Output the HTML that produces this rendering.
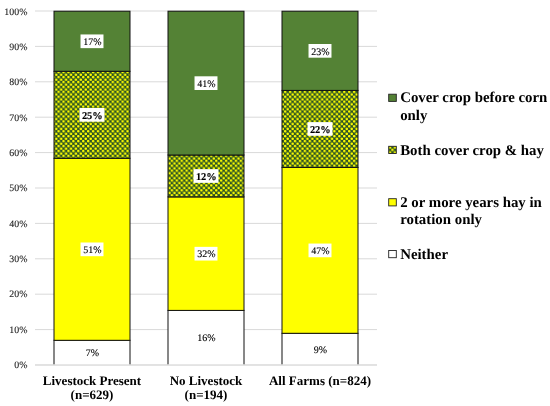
<!DOCTYPE html>
<html><head><meta charset="utf-8"><style>
html,body{margin:0;padding:0;background:#fff;}
body{width:550px;height:406px;overflow:hidden;position:relative;}
svg{position:absolute;left:0;top:0;}
text{font-family:"Liberation Serif","Times New Roman",serif;text-rendering:geometricPrecision;}
</style></head><body>
<svg width="550" height="406" viewBox="0 0 550 406">
<defs>
<pattern id="chk" patternUnits="userSpaceOnUse" x="57.43" y="130.1" width="4.925" height="4.925">
<rect x="0" y="0" width="4.925" height="4.925" fill="#2a5224"/>
<circle cx="1.231" cy="1.231" r="1.3" fill="#ffff00"/>
<circle cx="3.694" cy="3.694" r="1.3" fill="#ffff00"/>
</pattern>
<pattern id="chk2" patternUnits="userSpaceOnUse" x="391.27" y="148.67" width="4.925" height="4.925">
<rect x="0" y="0" width="4.925" height="4.925" fill="#2a5224"/>
<circle cx="1.231" cy="1.231" r="1.3" fill="#ffff00"/>
<circle cx="3.694" cy="3.694" r="1.3" fill="#ffff00"/>
</pattern>

</defs>

<g stroke="#d9d9d9" stroke-width="1">
<line x1="35" x2="377" y1="365.00" y2="365.00"/>
<line x1="35" x2="377" y1="329.60" y2="329.60"/>
<line x1="35" x2="377" y1="294.20" y2="294.20"/>
<line x1="35" x2="377" y1="258.80" y2="258.80"/>
<line x1="35" x2="377" y1="223.40" y2="223.40"/>
<line x1="35" x2="377" y1="188.00" y2="188.00"/>
<line x1="35" x2="377" y1="152.60" y2="152.60"/>
<line x1="35" x2="377" y1="117.20" y2="117.20"/>
<line x1="35" x2="377" y1="81.80" y2="81.80"/>
<line x1="35" x2="377" y1="46.40" y2="46.40"/>
<line x1="35" x2="377" y1="11.00" y2="11.00"/>
</g>
<g font-size="9.9" fill="#262626" stroke="#262626" stroke-width="0.12" text-anchor="end">
<text x="27.4" y="368.00">0%</text>
<text x="27.4" y="332.67">10%</text>
<text x="27.4" y="297.34">20%</text>
<text x="27.4" y="262.01">30%</text>
<text x="27.4" y="226.68">40%</text>
<text x="27.4" y="191.35">50%</text>
<text x="27.4" y="156.02">60%</text>
<text x="27.4" y="120.69">70%</text>
<text x="27.4" y="85.36">80%</text>
<text x="27.4" y="50.03">90%</text>
<text x="27.4" y="14.70">100%</text>
</g>
<clipPath id="plot"><rect x="0" y="0" width="550" height="364.6"/></clipPath><g clip-path="url(#plot)">
<rect x="54.00" y="340.30" width="76.00" height="26.70" fill="#ffffff" stroke="#111" stroke-width="1"/>
<rect x="54.00" y="158.30" width="76.00" height="182.00" fill="#ffff00" stroke="#111" stroke-width="1"/>
<clipPath id="c92"><rect x="54.00" y="71.30" width="76.00" height="87.00"/></clipPath>
<g clip-path="url(#c92)"><rect x="52.00" y="69.30" width="80.00" height="91.00" fill="url(#chk)"/></g>
<rect x="54.00" y="71.30" width="76.00" height="87.00" fill="none" stroke="#111" stroke-width="1"/>
<rect x="54.00" y="11.20" width="76.00" height="60.10" fill="#548235" stroke="#111" stroke-width="1"/>
<rect x="168.00" y="310.40" width="76.00" height="56.60" fill="#ffffff" stroke="#111" stroke-width="1"/>
<rect x="168.00" y="196.90" width="76.00" height="113.50" fill="#ffff00" stroke="#111" stroke-width="1"/>
<clipPath id="c206"><rect x="168.00" y="155.00" width="76.00" height="41.90"/></clipPath>
<g clip-path="url(#c206)"><rect x="166.00" y="153.00" width="80.00" height="45.90" fill="url(#chk)"/></g>
<rect x="168.00" y="155.00" width="76.00" height="41.90" fill="none" stroke="#111" stroke-width="1"/>
<rect x="168.00" y="11.20" width="76.00" height="143.80" fill="#548235" stroke="#111" stroke-width="1"/>
<rect x="282.00" y="333.30" width="76.00" height="33.70" fill="#ffffff" stroke="#111" stroke-width="1"/>
<rect x="282.00" y="167.40" width="76.00" height="165.90" fill="#ffff00" stroke="#111" stroke-width="1"/>
<clipPath id="c320"><rect x="282.00" y="90.40" width="76.00" height="77.00"/></clipPath>
<g clip-path="url(#c320)"><rect x="280.00" y="88.40" width="80.00" height="81.00" fill="url(#chk)"/></g>
<rect x="282.00" y="90.40" width="76.00" height="77.00" fill="none" stroke="#111" stroke-width="1"/>
<rect x="282.00" y="11.20" width="76.00" height="79.20" fill="#548235" stroke="#111" stroke-width="1"/>
</g>
<line x1="35" x2="377" y1="365" y2="365" stroke="#d9d9d9" stroke-width="1"/>
<rect x="82.97" y="345.85" width="18.06" height="13.7" fill="#fff"/>
<text x="92.3" y="356.35" font-size="10.0" text-anchor="middle" fill="#000" stroke="#000" stroke-width="0.12">7%</text>
<rect x="80.52" y="242.50" width="22.96" height="13.7" fill="#fff"/>
<text x="92.3" y="253.00" font-size="10.0" text-anchor="middle" fill="#000" stroke="#000" stroke-width="0.12">51%</text>
<rect x="79.50" y="108.00" width="25.00" height="13.7" fill="#fff"/>
<text x="92.3" y="118.50" font-size="10.4" text-anchor="middle" fill="#000" stroke="#000" stroke-width="0.12" font-weight="bold">25%</text>
<rect x="80.52" y="34.45" width="22.96" height="13.7" fill="#fff"/>
<text x="92.3" y="44.95" font-size="10.0" text-anchor="middle" fill="#000" stroke="#000" stroke-width="0.12">17%</text>
<rect x="194.52" y="330.90" width="22.96" height="13.7" fill="#fff"/>
<text x="206.3" y="341.40" font-size="10.0" text-anchor="middle" fill="#000" stroke="#000" stroke-width="0.12">16%</text>
<rect x="194.52" y="246.85" width="22.96" height="13.7" fill="#fff"/>
<text x="206.3" y="257.35" font-size="10.0" text-anchor="middle" fill="#000" stroke="#000" stroke-width="0.12">32%</text>
<rect x="193.50" y="169.15" width="25.00" height="13.7" fill="#fff"/>
<text x="206.3" y="179.65" font-size="10.4" text-anchor="middle" fill="#000" stroke="#000" stroke-width="0.12" font-weight="bold">12%</text>
<rect x="194.52" y="76.30" width="22.96" height="13.7" fill="#fff"/>
<text x="206.3" y="86.80" font-size="10.0" text-anchor="middle" fill="#000" stroke="#000" stroke-width="0.12">41%</text>
<rect x="310.97" y="342.35" width="18.06" height="13.7" fill="#fff"/>
<text x="320.3" y="352.85" font-size="10.0" text-anchor="middle" fill="#000" stroke="#000" stroke-width="0.12">9%</text>
<rect x="308.52" y="243.55" width="22.96" height="13.7" fill="#fff"/>
<text x="320.3" y="254.05" font-size="10.0" text-anchor="middle" fill="#000" stroke="#000" stroke-width="0.12">47%</text>
<rect x="307.50" y="122.10" width="25.00" height="13.7" fill="#fff"/>
<text x="320.3" y="132.60" font-size="10.4" text-anchor="middle" fill="#000" stroke="#000" stroke-width="0.12" font-weight="bold">22%</text>
<rect x="308.52" y="44.00" width="22.96" height="13.7" fill="#fff"/>
<text x="320.3" y="54.50" font-size="10.0" text-anchor="middle" fill="#000" stroke="#000" stroke-width="0.12">23%</text>
<g font-size="13" font-weight="bold" fill="#000" text-anchor="middle">
<text x="92" y="384.9">Livestock Present</text><text x="92" y="399.2">(n=629)</text>
<text x="206" y="384.9">No Livestock</text><text x="206" y="399.2">(n=194)</text>
<text x="320" y="385.0">All Farms (n=824)</text>
</g>
<rect x="388.7" y="94.20" width="7.6" height="7.2" fill="#548235" stroke="#222" stroke-width="0.9"/>
<text x="400.2" y="102.3" font-size="14.85" font-weight="bold" fill="#000">Cover crop before corn</text>
<text x="400.2" y="119.5" font-size="14.85" font-weight="bold" fill="#000">only</text>
<rect x="388.7" y="146.30" width="7.6" height="7.2" fill="url(#chk2)" stroke="#222" stroke-width="0.9"/>
<text x="400.2" y="154.6" font-size="14.85" font-weight="bold" fill="#000">Both cover crop &amp; hay</text>
<rect x="388.7" y="198.70" width="7.6" height="7.2" fill="#ffff00" stroke="#222" stroke-width="0.9"/>
<text x="400.2" y="206.6" font-size="14.85" font-weight="bold" fill="#000">2 or more years hay in</text>
<text x="400.2" y="223.9" font-size="14.85" font-weight="bold" fill="#000">rotation only</text>
<rect x="388.7" y="250.50" width="7.6" height="7.2" fill="#ffffff" stroke="#222" stroke-width="0.9"/>
<text x="400.2" y="258.8" font-size="14.85" font-weight="bold" fill="#000">Neither</text>
</svg>
</body></html>
